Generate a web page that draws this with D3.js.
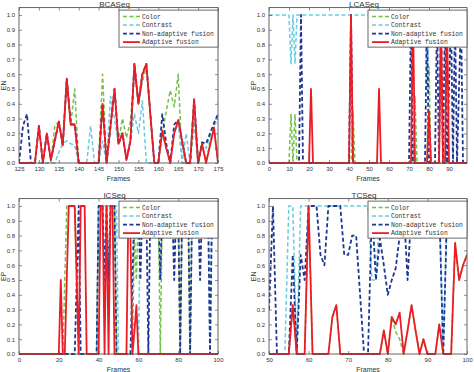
<!DOCTYPE html>
<html>
<head>
<meta charset="utf-8">
<script src="https://cdn.jsdelivr.net/npm/d3@7/dist/d3.min.js"></script>
<style>
body { margin: 0; background: #fff; }
svg { display: block; }
</style>
</head>
<body>
<div id="chart-area"></div>
<script>
// legend entries, in drawing order
const seriesNames = ["Color", "Contrast", "Non-adaptive fusion", "Adaptive fusion"]
const yTicks = [0, 0.1, 0.2, 0.3, 0.4, 0.5, 0.6, 0.7, 0.8, 0.9, 1]

// BCASeq  (frame, value)
const bcaXTicks = [125, 130, 135, 140, 145, 150, 155, 160, 165, 170, 175]
const bcaColor = [[125,0],[133,0],[134,0.25],[135,0.28],[136,0.12],[137,0.55],[138,0.26],[139,0.5],[140,0],[145,0],[146,0.6],[147,0],[148,0.25],[149,0.5],[150,0.15],[151,0.3],[152,0.17],[153,0.28],[154,0.62],[155,0.4],[156,0.55],[157,0.65],[158,0.33],[159,0],[160,0],[161,0.2],[162,0.35],[163,0.49],[164,0.38],[165,0.6],[166,0],[168,0],[169,0.28],[170,0],[171,0.13],[172,0],[173,0.15],[174,0.22],[175,0]]
const bcaContrast = [[125,0],[134,0],[135,0.07],[136,0.13],[137,0.15],[138,0.13],[139,0.12],[140,0],[142,0],[143,0.25],[144,0],[145,0],[146,0.15],[147,0],[148,0.45],[149,0.3],[150,0.12],[151,0.2],[152,0.02],[153,0.15],[154,0.33],[155,0.2],[156,0.42],[157,0],[160,0],[161,0.2],[162,0.1],[163,0],[164,0.2],[165,0.27],[166,0],[167,0.2],[168,0],[169,0.28],[170,0],[171,0.13],[172,0.1],[173,0.18],[174,0.25],[175,0.3]]
const bcaNonAdaptive = [[125,0],[126,0.25],[127,0.33],[128,0],[129,0],[130,0.25],[131,0],[132,0.2],[133,0.02],[134,0.15],[135,0.28],[136,0.12],[137,0.57],[138,0.26],[139,0.26],[140,0],[145,0],[146,0.4],[147,0],[148,0.25],[149,0.5],[150,0.13],[151,0.2],[152,0.02],[153,0.15],[154,0.67],[155,0.4],[156,0.6],[157,0.67],[158,0.33],[159,0],[160,0],[161,0.33],[162,0.13],[163,0],[164,0.26],[165,0.29],[166,0.15],[167,0],[168,0],[169,0.43],[170,0],[171,0.14],[172,0.13],[173,0.2],[174,0.27],[175,0.33]]
const bcaAdaptive = [[125,0],[129,0],[130,0.25],[131,0],[132,0.2],[133,0.02],[134,0.15],[135,0.28],[136,0.12],[137,0.57],[138,0.26],[139,0.26],[140,0],[145,0],[146,0.4],[147,0],[148,0.25],[149,0.5],[150,0.13],[151,0.2],[152,0.02],[153,0.15],[154,0.67],[155,0.4],[156,0.6],[157,0.67],[158,0.33],[159,0],[160,0],[161,0.22],[162,0.1],[163,0],[164,0.2],[165,0.29],[166,0.15],[167,0],[168,0],[169,0.43],[170,0],[171,0.13],[172,0],[173,0.12],[174,0.24],[175,0]]

// LCASeq
const lcaXTicks = [0, 10, 20, 30, 40, 50, 60, 70, 80, 90]
const lcaColor = [[0,0],[10,0],[11,0.33],[12,0],[13,0.33],[14,0],[41,0],[42,0.35],[43,0],[72,0],[73,0.45],[74,0],[79,0],[80,0.65],[81,0],[99,0]]
const lcaContrast = [[0,1],[10,1],[11,0.67],[12,1],[13,0.67],[14,1],[78,1],[79,0.5],[80,1],[99,1]]
const lcaNonAdaptive = [[0,0],[15,0],[16,1],[17,0],[40,0],[41,1],[42,0],[70,0],[71,1],[72,0],[78,0],[79,1],[80,0],[83,0],[84,1],[85,0],[86,1],[87,0],[88,1],[89,0],[91,1],[92,0],[93,1],[94,0],[96,1],[97,0],[99,0]]
const lcaAdaptive = [[0,0],[20,0],[21,0.5],[22,0],[40,0],[41,1],[42,0],[54,0],[55,0.5],[56,0],[71,0],[72,1],[73,0],[79,0],[80,0.35],[81,0],[85,0],[86,1],[87,0],[88,0],[89,1],[90,0],[99,0]]

// ICSeq
const icXTicks = [0, 20, 40, 60, 80, 100]
const icColor = [[0,0],[22,0],[24,1],[28,1],[30,0],[39,0],[40,1],[48,1],[49,0],[57,0],[58,0.8],[59,0.5],[60,1],[70,1],[71,0],[72,1],[80,1],[81,0],[82,1],[85,1],[86,0],[87,1],[100,1]]
const icContrast = [[0,0],[39,0],[40,1],[49,1],[50,0],[60,0],[61,1],[95,1],[96,0],[97,1],[100,1]]
const icNonAdaptive = [[0,0],[28,0],[29,0.5],[30,1],[31,0],[39,0],[40,1],[42,1],[43,0.5],[44,1],[45,0.5],[46,1],[48,1],[49,0],[56,0],[57,0.5],[58,1],[60,1],[61,0.5],[62,1],[64,1],[65,0],[66,1],[70,1],[71,0.5],[72,1],[77,1],[78,0.5],[79,1],[80,1],[81,0],[82,1],[85,1],[86,0],[87,1],[90,1],[91,0.5],[92,1],[95,1],[96,0],[97,1],[100,1]]
const icAdaptive = [[0,0],[20,0],[21,0.5],[22,0],[23,0],[24,0.5],[25,1],[28,1],[29,0.5],[30,0],[31,1],[33,1],[34,0],[40,0],[41,1],[42,1],[43,0],[44,1],[45,0],[46,1],[47,1],[48,0],[54,0],[55,1],[56,0.8],[57,0],[58,0.15],[59,0.33],[60,0],[100,0]]

// TCSeq
const tcXTicks = [50, 60, 70, 80, 90, 100]
const tcColor = [[50,0],[55,0],[56,0.33],[57,0],[59,0],[60,1],[61,0],[65,0],[66,0.25],[67,0.33],[68,0],[78,0],[79,0.16],[80,0],[81,0.25],[82,0.15],[83,0.1],[84,0],[85,0.16],[86,0.33],[87,0.16],[88,0],[89,0.1],[90,0],[92,0],[93,0.2],[94,0],[96,0],[97,0.75],[98,0.5],[99,0.6],[100,0.67]]
const tcContrast = [[50,0],[54,0],[55,1],[56,1],[57,0],[58,1],[75,1],[76,0.5],[77,0.5],[78,1],[93,1],[94,0],[95,1],[100,1]]
const tcNonAdaptive = [[50,0.3],[51,1],[52,0],[55,0],[56,0.67],[57,0],[58,0.67],[59,0.5],[60,1],[62,1],[63,0.67],[64,0.6],[65,1],[68,1],[69,0.67],[70,0.67],[71,0.8],[72,0.8],[73,0.4],[74,0],[75,0],[76,1],[77,0.5],[78,0.78],[79,0.6],[80,0.4],[81,0.5],[82,0.58],[83,0.8],[84,1],[85,0.5],[86,1],[93,1],[94,0],[95,1],[100,1]]
const tcAdaptive = [[50,0],[55,0],[56,0.33],[57,0],[59,0],[60,1],[61,0],[65,0],[66,0.25],[67,0.33],[68,0],[78,0],[79,0.16],[80,0],[81,0.25],[82,0.2],[83,0.28],[84,0],[85,0.16],[86,0.33],[87,0.16],[88,0],[89,0.1],[90,0],[92,0],[93,0.2],[94,0],[96,0],[97,0.75],[98,0.5],[99,0.6],[100,0.67]]

const styles = [
  { color: "#72c046", width: 1.5, dash: "4,2.5" },
  { color: "#66cce0", width: 1.5, dash: "4,2.5" },
  { color: "#1e3690", width: 1.8, dash: "4,2.5" },
  { color: "#ec1c24", width: 1.8, dash: null }
]

const W = 474, H = 372
const svg = d3.select("#chart-area").append("svg")
  .attr("width", W).attr("height", H)
  .style("font-family", "'Liberation Sans', Arial, sans-serif")

const panels = [
  { title: "BCASeq", yLabel: "EN", left: 19, right: 218, bottom: 163, xDomain: [125, 175], xTicks: bcaXTicks, series: [bcaColor, bcaContrast, bcaNonAdaptive, bcaAdaptive] },
  { title: "LCASeq", yLabel: "EP", left: 269, right: 467, bottom: 163, xDomain: [0, 99], xTicks: lcaXTicks, series: [lcaColor, lcaContrast, lcaNonAdaptive, lcaAdaptive] },
  { title: "ICSeq", yLabel: "EP", left: 19, right: 218, bottom: 354, xDomain: [0, 100], xTicks: icXTicks, series: [icColor, icContrast, icNonAdaptive, icAdaptive] },
  { title: "TCSeq", yLabel: "EN", left: 269, right: 467, bottom: 354, xDomain: [50, 100], xTicks: tcXTicks, series: [tcColor, tcContrast, tcNonAdaptive, tcAdaptive] }
]

panels.forEach((p, i) => drawPanel(p, i))

function drawPanel(p, idx) {
  const x = d3.scaleLinear().domain(p.xDomain).range([p.left, p.right])
  const y = d3.scaleLinear().domain([0, 1.05]).range([p.bottom, p.bottom - 155.4])
  const top = y(1.05)
  const g = svg.append("g")

  g.append("rect")
    .attr("x", p.left).attr("y", top)
    .attr("width", p.right - p.left).attr("height", p.bottom - top)
    .attr("fill", "#fff")

  const clipId = "clip" + idx
  g.append("clipPath").attr("id", clipId)
    .append("rect")
    .attr("x", p.left).attr("y", top - 1)
    .attr("width", p.right - p.left).attr("height", p.bottom - top + 2)

  const line = d3.line().x(d => x(d[0])).y(d => y(d[1]))
  const lines = g.append("g").attr("clip-path", `url(#${clipId})`)
  p.series.forEach((s, k) => {
    lines.append("path")
      .datum(s)
      .attr("d", line)
      .attr("fill", "none")
      .attr("stroke", styles[k].color)
      .attr("stroke-width", styles[k].width)
      .attr("stroke-dasharray", styles[k].dash)
      .attr("stroke-linejoin", "round")
  })

  // axes, ticks pointing inwards
  const axes = [
    { a: d3.axisBottom(x).tickValues(p.xTicks), t: `translate(0,${p.bottom})` },
    { a: d3.axisTop(x).tickValues(p.xTicks).tickFormat(""), t: `translate(0,${top})` },
    { a: d3.axisLeft(y).tickValues(yTicks), t: `translate(${p.left},0)` },
    { a: d3.axisRight(y).tickValues(yTicks).tickFormat(""), t: `translate(${p.right},0)` }
  ]
  axes.forEach(ax => {
    const ag = g.append("g").attr("transform", ax.t)
      .call(ax.a.tickSize(-3).tickPadding(4))
    ag.select(".domain").remove()
    ag.selectAll("line").attr("stroke", "#444").attr("stroke-width", 0.6)
    ag.selectAll("text")
      .attr("fill", "#333")
      .style("font-size", "6px")
      .style("font-family", "'Liberation Sans', Arial, sans-serif")
  })

  g.append("rect")
    .attr("x", p.left).attr("y", top)
    .attr("width", p.right - p.left).attr("height", p.bottom - top)
    .attr("fill", "none").attr("stroke", "#555").attr("stroke-width", 0.9)

  // title and axis labels
  g.append("text")
    .attr("x", (p.left + p.right) / 2 - 4).attr("y", top - 1)
    .attr("text-anchor", "middle")
    .attr("fill", "#333").style("font-size", "8px")
    .text(p.title)

  g.append("text")
    .attr("x", (p.left + p.right) / 2).attr("y", p.bottom + 17.5)
    .attr("text-anchor", "middle")
    .attr("fill", "#333").style("font-size", "7px")
    .text("Frames")

  g.append("text")
    .attr("transform", `translate(${p.left - 13},${(top + p.bottom) / 2}) rotate(-90)`)
    .attr("text-anchor", "middle")
    .attr("fill", "#333").style("font-size", "7px")
    .text(p.yLabel)

  // legend
  const lw = 99, lh = 37
  const lx = p.right - lw, ly = top + 2.5
  const lg = g.append("g").attr("transform", `translate(${lx},${ly})`)
  lg.append("rect")
    .attr("width", lw).attr("height", lh)
    .attr("fill", "#fff").attr("stroke", "#444").attr("stroke-width", 0.8)
  seriesNames.forEach((name, k) => {
    const ry = 6.5 + 8.5 * k
    lg.append("line")
      .attr("x1", 4).attr("x2", 21).attr("y1", ry).attr("y2", ry)
      .attr("stroke", styles[k].color)
      .attr("stroke-width", styles[k].width)
      .attr("stroke-dasharray", styles[k].dash)
    lg.append("text")
      .attr("x", 23).attr("y", ry + 2.2)
      .attr("fill", "#333")
      .style("font-size", "6.3px")
      .style("font-family", "'Liberation Mono', 'DejaVu Sans Mono', monospace")
      .text(name)
  })
}
</script>
</body>
</html>
